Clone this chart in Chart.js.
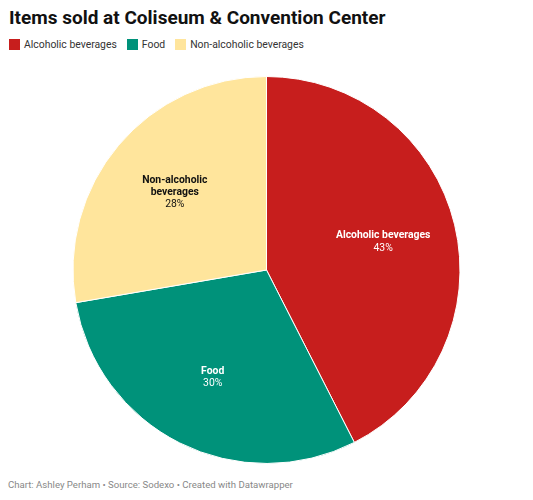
<!DOCTYPE html>
<html>
<head>
<meta charset="utf-8">
<script src="https://cdn.jsdelivr.net/npm/chart.js@4"></script>
<style>
  html, body { margin: 0; padding: 0; background: #fff; }
  body { width: 533px; height: 500px; position: relative; font-family: Roboto, sans-serif; overflow: hidden; }
  #title { position: absolute; left: 9px; top: 6px; font-size: 19px; font-weight: 700; color: #111; white-space: nowrap; }
  #legend { position: absolute; left: 9px; top: 38px; font-size: 10.4px; line-height: 13px; color: #333; display: flex; }
  #legend span.item { display: flex; align-items: center; margin-right: 10px; }
  #legend span.sw { display: inline-block; width: 11px; height: 11px; margin-right: 4px; }
  #footer { position: absolute; left: 8px; top: 479px; font-size: 9.6px; color: #888; white-space: nowrap; }
  #wrap { position: absolute; left: 0; top: 76px; width: 533px; height: 388px; }
</style>
</head>
<body>
<div id="title">Items sold at Coliseum &amp; Convention Center</div>
<div id="legend"></div>
<div id="wrap"><canvas id="chart1"></canvas></div>
<div id="footer">Chart: Ashley Perham • Source: Sodexo • Created with Datawrapper</div>
<script>
// Setup
const categories = ['Alcoholic beverages', 'Food', 'Non-alcoholic beverages'];
const shares = [42.5, 29.8, 27.7];
const colors = ['#c71e1d', '#00927a', '#ffe59c'];
const textColors = ['#fff', '#fff', '#111'];
// label lines drawn inside each slice
const sliceLabels = [['Alcoholic beverages'], ['Food'], ['Non-alcoholic', 'beverages']];

// legend built from the same arrays
const legend = document.getElementById('legend');
categories.forEach((c, i) => {
  const item = document.createElement('span');
  item.className = 'item';
  item.innerHTML = '<span class="sw" style="background:' + colors[i] + '"></span>' + c;
  legend.appendChild(item);
});

// draws the name + percentage inside every slice
const sliceText = {
  id: 'sliceText',
  afterDatasetsDraw(chart) {
    const ctx = chart.ctx;
    const meta = chart.getDatasetMeta(0);
    const total = shares.reduce((a, b) => a + b, 0);
    meta.data.forEach((arc, i) => {
      const p = arc.getProps(['x', 'y', 'startAngle', 'endAngle', 'outerRadius'], true);
      const mid = (p.startAngle + p.endAngle) / 2;
      const r = p.outerRadius * 0.62;
      const cx = p.x + Math.cos(mid) * r;
      const cy = p.y + Math.sin(mid) * r;
      const lines = sliceLabels[i];
      const lh = 12.2;
      const n = lines.length + 1;
      let y = cy - (n - 1) * lh / 2;
      ctx.save();
      ctx.textAlign = 'center';
      ctx.textBaseline = 'middle';
      ctx.fillStyle = textColors[i];
      ctx.font = 'bold 10.4px Roboto';
      lines.forEach(l => { ctx.fillText(l, cx, y); y += lh; });
      ctx.font = '10.4px Roboto';
      ctx.fillText(Math.round(shares[i] / total * 100) + '%', cx, y);
      ctx.restore();
    });
  }
};

const data = {
  labels: categories,
  datasets: [{
    data: shares,
    backgroundColor: colors,
    borderColor: '#fff',
    borderWidth: 1
  }]
};

const config = {
  type: 'pie',
  data: data,
  options: {
    responsive: true,
    maintainAspectRatio: false,
    animation: false,
    layout: { padding: 0 },
    plugins: {
      legend: { display: false },
      tooltip: { enabled: false }
    }
  },
  plugins: [sliceText]
};

const myChart = new Chart(document.getElementById('chart1'), config);
</script>
</body>
</html>
